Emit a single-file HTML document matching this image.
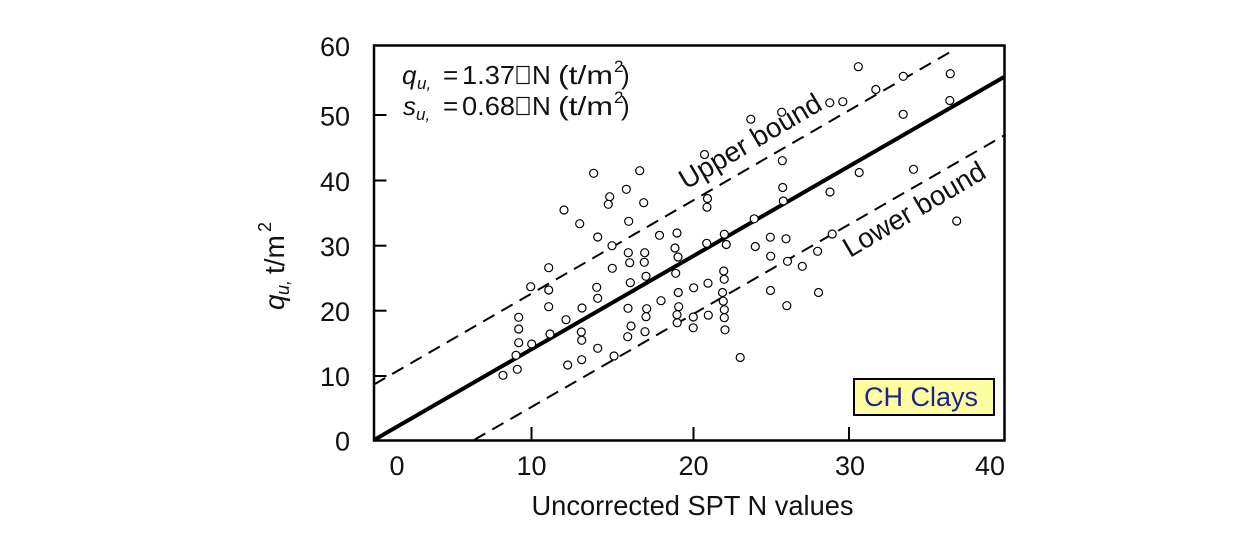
<!DOCTYPE html>
<html>
<head>
<meta charset="utf-8">
<style>
  html, body { margin: 0; padding: 0; background: #ffffff; }
  body { width: 1244px; height: 534px; overflow: hidden; }
  svg { display: block; }
  text { font-family: "Liberation Sans", Arial, sans-serif; fill: #111; }
</style>
</head>
<body>
<svg width="1244" height="534" viewBox="0 0 1244 534" xmlns="http://www.w3.org/2000/svg">
  <rect x="0" y="0" width="1244" height="534" fill="#ffffff"/>

  <line x1="374" y1="440" x2="1004" y2="77" stroke="#000" stroke-width="4"/>
  <line x1="374" y1="384.5" x2="952" y2="51" stroke="#000" stroke-width="2" stroke-dasharray="13,8"/>
  <line x1="474" y1="440" x2="1004" y2="135.5" stroke="#000" stroke-width="2" stroke-dasharray="13,8"/>

  <g fill="#ffffff" stroke="#000" stroke-width="1.2">
    <circle cx="593.7" cy="173.3" r="4"/>
    <circle cx="639.7" cy="170.7" r="4"/>
    <circle cx="626.3" cy="189.3" r="4"/>
    <circle cx="609.7" cy="196.7" r="4"/>
    <circle cx="608.3" cy="204.3" r="4"/>
    <circle cx="643.7" cy="202.7" r="4"/>
    <circle cx="564" cy="210" r="4"/>
    <circle cx="628.7" cy="221.3" r="4"/>
    <circle cx="579.7" cy="223.7" r="4"/>
    <circle cx="597.7" cy="237" r="4"/>
    <circle cx="659.5" cy="235.3" r="4"/>
    <circle cx="612" cy="245.7" r="4"/>
    <circle cx="628.3" cy="252.7" r="4"/>
    <circle cx="644.7" cy="252.7" r="4"/>
    <circle cx="629.7" cy="262.7" r="4"/>
    <circle cx="644.3" cy="262.3" r="4"/>
    <circle cx="548.7" cy="267.7" r="4"/>
    <circle cx="612.3" cy="268.3" r="4"/>
    <circle cx="646" cy="276.3" r="4"/>
    <circle cx="630.3" cy="282.7" r="4"/>
    <circle cx="530.7" cy="286.7" r="4"/>
    <circle cx="548.7" cy="290" r="4"/>
    <circle cx="596.7" cy="287.3" r="4"/>
    <circle cx="597.7" cy="298.3" r="4"/>
    <circle cx="548.7" cy="306.7" r="4"/>
    <circle cx="582" cy="308" r="4"/>
    <circle cx="628" cy="308.3" r="4"/>
    <circle cx="646.7" cy="308.7" r="4"/>
    <circle cx="646" cy="316.7" r="4"/>
    <circle cx="518.7" cy="317.3" r="4"/>
    <circle cx="566" cy="319.7" r="4"/>
    <circle cx="631" cy="326" r="4"/>
    <circle cx="518.7" cy="329" r="4"/>
    <circle cx="581.3" cy="332" r="4"/>
    <circle cx="550" cy="334" r="4"/>
    <circle cx="645" cy="331.7" r="4"/>
    <circle cx="627.7" cy="336.7" r="4"/>
    <circle cx="581.7" cy="340.3" r="4"/>
    <circle cx="518.7" cy="342.7" r="4"/>
    <circle cx="531.7" cy="344" r="4"/>
    <circle cx="597.7" cy="348.3" r="4"/>
    <circle cx="516" cy="355.3" r="4"/>
    <circle cx="614" cy="356" r="4"/>
    <circle cx="581.7" cy="359.7" r="4"/>
    <circle cx="567.7" cy="365" r="4"/>
    <circle cx="517.3" cy="369.3" r="4"/>
    <circle cx="503" cy="375.3" r="4"/>
    <circle cx="661" cy="300.7" r="4"/>
    <circle cx="704.5" cy="154.5" r="4"/>
    <circle cx="782.3" cy="160.7" r="4"/>
    <circle cx="782.7" cy="187.5" r="4"/>
    <circle cx="707.5" cy="198.5" r="4"/>
    <circle cx="707" cy="207.2" r="4"/>
    <circle cx="783.3" cy="201" r="4"/>
    <circle cx="754.2" cy="218.8" r="4"/>
    <circle cx="677" cy="233" r="4"/>
    <circle cx="724.3" cy="234.2" r="4"/>
    <circle cx="706.7" cy="243.3" r="4"/>
    <circle cx="726.3" cy="244.5" r="4"/>
    <circle cx="675" cy="248" r="4"/>
    <circle cx="678" cy="257" r="4"/>
    <circle cx="770.3" cy="237.2" r="4"/>
    <circle cx="786" cy="238.8" r="4"/>
    <circle cx="755.3" cy="246.5" r="4"/>
    <circle cx="770.7" cy="256.2" r="4"/>
    <circle cx="817.6" cy="251.3" r="4"/>
    <circle cx="787.5" cy="261.3" r="4"/>
    <circle cx="802.3" cy="266.3" r="4"/>
    <circle cx="675.7" cy="273.3" r="4"/>
    <circle cx="723.7" cy="271" r="4"/>
    <circle cx="724.2" cy="279.3" r="4"/>
    <circle cx="708" cy="283.2" r="4"/>
    <circle cx="693.7" cy="287.8" r="4"/>
    <circle cx="678.3" cy="292.5" r="4"/>
    <circle cx="722.5" cy="292.5" r="4"/>
    <circle cx="770.5" cy="290.5" r="4"/>
    <circle cx="818.5" cy="292.5" r="4"/>
    <circle cx="723.3" cy="301.2" r="4"/>
    <circle cx="678.7" cy="306.7" r="4"/>
    <circle cx="786.8" cy="305.7" r="4"/>
    <circle cx="724.3" cy="309.7" r="4"/>
    <circle cx="677" cy="314.7" r="4"/>
    <circle cx="693.3" cy="317" r="4"/>
    <circle cx="708.3" cy="315.2" r="4"/>
    <circle cx="724.3" cy="317.7" r="4"/>
    <circle cx="677.2" cy="322.8" r="4"/>
    <circle cx="693.2" cy="327.8" r="4"/>
    <circle cx="725" cy="329.8" r="4"/>
    <circle cx="740.2" cy="357.5" r="4"/>
    <circle cx="858.3" cy="66.7" r="4"/>
    <circle cx="950.3" cy="73.7" r="4"/>
    <circle cx="903.3" cy="76.3" r="4"/>
    <circle cx="875.8" cy="89.5" r="4"/>
    <circle cx="949.8" cy="100.5" r="4"/>
    <circle cx="829.8" cy="102.8" r="4"/>
    <circle cx="842.8" cy="101.7" r="4"/>
    <circle cx="781.7" cy="112.2" r="4"/>
    <circle cx="903.2" cy="114.3" r="4"/>
    <circle cx="750.8" cy="119.2" r="4"/>
    <circle cx="859.2" cy="172.5" r="4"/>
    <circle cx="913.5" cy="169.3" r="4"/>
    <circle cx="830" cy="192" r="4"/>
    <circle cx="956.7" cy="221" r="4"/>
    <circle cx="832.2" cy="234" r="4"/>
  </g>

  <rect x="374" y="45.5" width="630.5" height="395" fill="none" stroke="#000" stroke-width="2.5"/>

  <g stroke="#000" stroke-width="2">
    <line x1="374" y1="115" x2="386.5" y2="115"/>
    <line x1="374" y1="180.5" x2="386.5" y2="180.5"/>
    <line x1="374" y1="245.7" x2="386.5" y2="245.7"/>
    <line x1="374" y1="310.7" x2="386.5" y2="310.7"/>
    <line x1="374" y1="376" x2="386.5" y2="376"/>
    <line x1="531.5" y1="440" x2="531.5" y2="427"/>
    <line x1="693.5" y1="440" x2="693.5" y2="427"/>
    <line x1="849" y1="440" x2="849" y2="427"/>
  </g>

  <g font-size="27" text-anchor="end">
    <text x="350" y="56">60</text>
    <text x="350" y="125.5">50</text>
    <text x="350" y="191">40</text>
    <text x="350" y="256">30</text>
    <text x="350" y="321">20</text>
    <text x="350" y="386">10</text>
    <text x="350" y="450.5">0</text>
  </g>

  <g font-size="27" text-anchor="middle">
    <text x="397" y="475">0</text>
    <text x="531.5" y="475">10</text>
    <text x="693.5" y="475">20</text>
    <text x="850" y="475">30</text>
    <text x="990" y="475">40</text>
  </g>

  <text x="531.5" y="515" font-size="28" textLength="322" lengthAdjust="spacingAndGlyphs">Uncorrected SPT N values</text>

  <g transform="translate(284,310) rotate(-90)">
    <text x="0" y="0" font-size="28" font-style="italic">q</text>
    <text x="15" y="5" font-size="18" font-style="italic">u,</text>
    <text x="36" y="0" font-size="28">t/m</text>
    <text x="78" y="-13" font-size="18">2</text>
  </g>

  <g font-size="26">
    <text x="402" y="84" font-style="italic">q</text>
    <text x="417" y="89" font-size="17" font-style="italic">u,</text>
    <text x="443" y="84">=</text>
    <text x="462" y="84" textLength="53" lengthAdjust="spacingAndGlyphs">1.37</text>
    <text x="532" y="84">N</text>
    <text x="558" y="84" textLength="55" lengthAdjust="spacingAndGlyphs">(t/m</text>
    <text x="614" y="72" font-size="17">2</text>
    <text x="621" y="84">)</text>
    <text x="403" y="115" font-style="italic">s</text>
    <text x="416" y="120" font-size="17" font-style="italic">u,</text>
    <text x="443" y="115">=</text>
    <text x="462" y="115" textLength="53" lengthAdjust="spacingAndGlyphs">0.68</text>
    <text x="532" y="115">N</text>
    <text x="558" y="115" textLength="55" lengthAdjust="spacingAndGlyphs">(t/m</text>
    <text x="614" y="103" font-size="17">2</text>
    <text x="621" y="115">)</text>
  </g>
  <rect x="517" y="66.5" width="12" height="17" fill="none" stroke="#111" stroke-width="1.2"/>
  <rect x="517" y="97.5" width="12" height="17" fill="none" stroke="#111" stroke-width="1.2"/>

  <text transform="translate(686,190) rotate(-30.5)" font-size="28" textLength="160" lengthAdjust="spacingAndGlyphs">Upper bound</text>
  <text transform="translate(850,258) rotate(-30.5)" font-size="28" textLength="160" lengthAdjust="spacingAndGlyphs">Lower bound</text>

  <rect x="854" y="379" width="140" height="36" fill="#ffffa0" stroke="#000" stroke-width="2"/>
  <text x="864" y="406" font-size="27" textLength="114" lengthAdjust="spacingAndGlyphs" style="fill:#1e2396">CH Clays</text>
</svg>
</body>
</html>
